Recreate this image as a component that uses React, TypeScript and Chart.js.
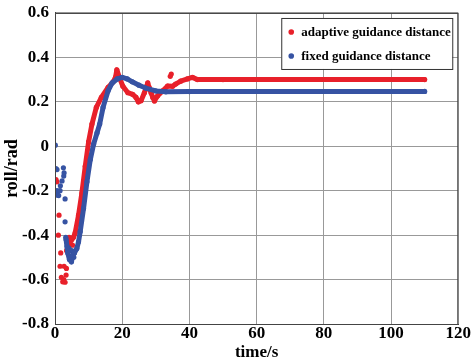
import React, { useEffect, useRef } from "react";
import { Chart, registerables } from "chart.js";

Chart.register(...registerables);

const RED = "#e8202a";
const BLUE = "#3653a3";
const FONT = "'Liberation Serif', 'Times New Roman', serif";

const seriesNames = ["adaptive guidance distance", "fixed guidance distance"];

const xTicks = [0, 20, 40, 60, 80, 100, 120];
const yTicks = [-0.8, -0.6, -0.4, -0.2, 0, 0.2, 0.4, 0.6];

// adaptive guidance distance (red): scattered early samples
const redScatterT = [0.3, 0.6, 1.2, 1.0, 1.7, 1.5, 2.7, 1.9, 2.3, 2.6, 3.0, 3.3, 3.4, 4.2, 5.2, 34.3, 34.6];
const redScatterV = [-0.15, -0.16, -0.31, -0.40, -0.48, -0.54, -0.54, -0.59, -0.61, -0.60, -0.612, -0.58, -0.55, -0.41, -0.445, 0.315, 0.325];

// adaptive guidance distance (red): dense trajectory
const redPathT = [3.5, 4.0, 4.5, 5.0, 5.5, 6.0, 7.0, 8.0, 9.0, 10.0, 11.0, 12.3, 13.8, 15.8, 17.3, 18.0, 18.4, 19.2, 20.2, 21.7, 23.1, 24.1, 24.8, 25.6, 26.6, 27.3, 27.6, 28.0, 28.6, 29.1, 29.6, 30.5, 32.0, 33.5, 35.0, 35.9, 37.4, 39.4, 40.9, 42.4, 50, 110];
const redPathV = [-0.47, -0.44, -0.43, -0.42, -0.41, -0.39, -0.31, -0.21, -0.09, 0.02, 0.10, 0.175, 0.22, 0.265, 0.29, 0.31, 0.344, 0.308, 0.27, 0.241, 0.234, 0.22, 0.2, 0.205, 0.241, 0.27, 0.285, 0.265, 0.24, 0.22, 0.204, 0.226, 0.249, 0.271, 0.27, 0.28, 0.293, 0.303, 0.31, 0.30, 0.30, 0.30];

// fixed guidance distance (blue): scattered early samples
const blueScatterT = [0.1, 0.3, 0.6, 0.6, 0.8, 1.1, 1.5, 1.6, 2.1, 2.5, 2.6, 2.7, 3.0, 3.0, 3.2, 3.6, 4.2, 5.0, 5.6];
const blueScatterV = [0.005, -0.10, -0.105, -0.20, -0.22, -0.222, -0.20, -0.178, -0.156, -0.097, -0.134, -0.12, -0.237, -0.34, -0.41, -0.45, -0.46, -0.47, -0.50];

// fixed guidance distance (blue): dense trajectory
const bluePathT = [3.3, 3.8, 4.3, 4.9, 5.3, 5.8, 6.5, 7.0, 7.5, 8.5, 9.5, 10.5, 11.5, 12.5, 13.3, 14.3, 15.8, 17.0, 18.5, 20.0, 21.5, 23.0, 25.0, 27.0, 30.0, 33.0, 40, 110];
const bluePathV = [-0.42, -0.48, -0.51, -0.52, -0.49, -0.48, -0.46, -0.43, -0.384, -0.28, -0.16, -0.06, 0.01, 0.06, 0.10, 0.175, 0.25, 0.285, 0.303, 0.31, 0.303, 0.29, 0.275, 0.262, 0.249, 0.245, 0.246, 0.247];

const pts = (t: number[], v: number[]) => t.map((x, i) => ({ x, y: v[i] }));

const boxPlugin = {
  id: "boxAndLegend",
  afterDraw(chart: any) {
    const { ctx, chartArea } = chart;
    ctx.save();
    // frame
    ctx.strokeStyle = "#444";
    ctx.lineWidth = 1;
    ctx.strokeRect(chartArea.left + 0.5, chartArea.top + 0.5, chartArea.right - chartArea.left - 1, chartArea.bottom - chartArea.top);
    // legend box
    const w = 171;
    const h = 51;
    const x = chartArea.right - w - 6;
    const y = chartArea.top + 5;
    ctx.fillStyle = "#fff";
    ctx.fillRect(x, y, w, h);
    ctx.strokeStyle = "#333";
    ctx.strokeRect(x + 0.5, y + 0.5, w, h);
    const colors = [RED, BLUE];
    ctx.font = `bold 13px ${FONT}`;
    ctx.textBaseline = "middle";
    ctx.textAlign = "left";
    seriesNames.forEach((name, i) => {
      const cy = y + 14 + i * 24;
      ctx.fillStyle = colors[i];
      ctx.beginPath();
      ctx.arc(x + 10, cy, 2.8, 0, Math.PI * 2);
      ctx.fill();
      ctx.fillStyle = "#000";
      ctx.fillText(name, x + 20, cy + 1);
    });
    ctx.restore();
  },
};

export default function App() {
  const ref = useRef<HTMLCanvasElement>(null);
  useEffect(() => {
    if (!ref.current) return;
    const tickFont = { family: FONT, size: 17, weight: "bold" as const, lineHeight: 0.82 };
    const chart = new Chart(ref.current, {
      type: "scatter",
      data: {
        datasets: [
          {
            label: seriesNames[1],
            data: pts(bluePathT, bluePathV),
            showLine: true,
            borderColor: BLUE,
            borderWidth: 5,
            borderCapStyle: "round",
            borderJoinStyle: "round",
            backgroundColor: BLUE,
            pointRadius: 2.6,
            pointBorderWidth: 0,
            order: 0,
          },
          {
            label: seriesNames[1] + " samples",
            data: pts(blueScatterT, blueScatterV),
            showLine: false,
            backgroundColor: BLUE,
            borderColor: BLUE,
            pointRadius: 2.6,
            pointBorderWidth: 0,
            order: 1,
          },
          {
            label: seriesNames[0],
            data: pts(redPathT, redPathV),
            showLine: true,
            borderColor: RED,
            borderWidth: 5,
            borderCapStyle: "round",
            borderJoinStyle: "round",
            backgroundColor: RED,
            pointRadius: 2.6,
            pointBorderWidth: 0,
            order: 2,
          },
          {
            label: seriesNames[0] + " samples",
            data: pts(redScatterT, redScatterV),
            showLine: false,
            backgroundColor: RED,
            borderColor: RED,
            pointRadius: 2.6,
            pointBorderWidth: 0,
            order: 3,
          },
        ],
      },
      options: {
        animation: false,
        responsive: true,
        maintainAspectRatio: false,
        layout: { padding: { top: 0, right: 13, left: 0, bottom: 0 } },
        plugins: { legend: { display: false }, tooltip: { enabled: false } },
        scales: {
          x: {
            type: "linear",
            min: xTicks[0],
            max: xTicks[xTicks.length - 1],
            afterBuildTicks: (s: any) => { s.ticks = xTicks.map((value) => ({ value })); },
            afterFit: (s: any) => { s.height = 39; },
            ticks: { font: tickFont, color: "#000", padding: 3, maxRotation: 0, autoSkip: false },
            grid: { color: "#999", lineWidth: 1, drawTicks: false },
            border: { color: "#444" },
            title: { display: true, text: "time/s", font: { family: FONT, size: 17, weight: "bold" }, color: "#000", padding: { top: 0, bottom: 0 } },
          },
          y: {
            type: "linear",
            min: yTicks[0],
            max: yTicks[yTicks.length - 1],
            afterBuildTicks: (s: any) => { s.ticks = yTicks.map((value) => ({ value })); },
            afterFit: (s: any) => { s.width = 55; },
            ticks: {
              font: tickFont,
              color: "#000",
              padding: 6,
              autoSkip: false,
              callback: (v: any) => { const n = Math.round(Number(v) * 10) / 10; return n === 0 ? "0" : n.toFixed(1); },
            },
            grid: { color: "#999", lineWidth: 1, drawTicks: false },
            border: { color: "#444" },
            title: { display: true, text: "roll/rad", font: { family: FONT, size: 18, weight: "bold" }, color: "#000", padding: { top: 2, bottom: 0 } },
          },
        },
      },
      plugins: [boxPlugin],
    } as any);
    return () => chart.destroy();
  }, []);
  return (
    <div style={{ position: "absolute", left: 0, top: 0, width: 474, height: 363, background: "#fff" }}>
      <canvas ref={ref} />
    </div>
  );
}
